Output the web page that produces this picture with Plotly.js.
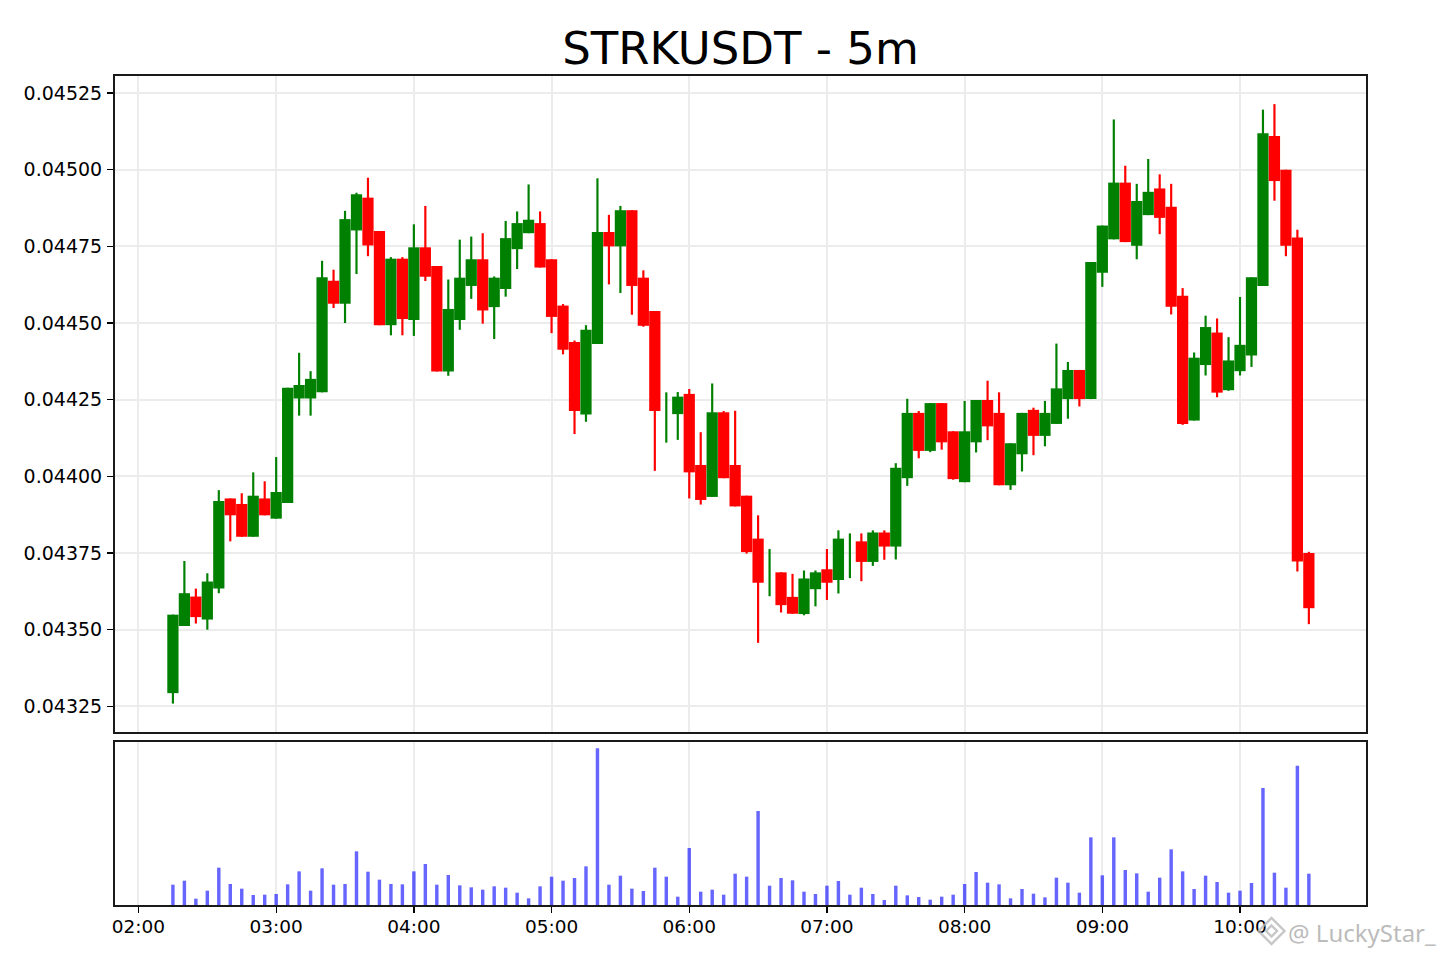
<!DOCTYPE html>
<html>
<head>
<meta charset="utf-8">
<script src="https://cdn.plot.ly/plotly-3.0.1.min.js"></script>
<style>html,body{margin:0;padding:0;background:#fff}#chart{width:1444px;height:957px}</style>
</head>
<body>
<div id="chart"></div>
<script>
const day = '2024-03-01 ';
const times = ['02:15','02:20','02:25','02:30','02:35','02:40','02:45','02:50','02:55','03:00','03:05','03:10','03:15','03:20','03:25','03:30','03:35','03:40','03:45','03:50','03:55','04:00','04:05','04:10','04:15','04:20','04:25','04:30','04:35','04:40','04:45','04:50','04:55','05:00','05:05','05:10','05:15','05:20','05:25','05:30','05:35','05:40','05:45','05:50','05:55','06:00','06:05','06:10','06:15','06:20','06:25','06:30','06:35','06:40','06:45','06:50','06:55','07:00','07:05','07:10','07:15','07:20','07:25','07:30','07:35','07:40','07:45','07:50','07:55','08:00','08:05','08:10','08:15','08:20','08:25','08:30','08:35','08:40','08:45','08:50','08:55','09:00','09:05','09:10','09:15','09:20','09:25','09:30','09:35','09:40','09:45','09:50','09:55','10:00','10:05','10:10','10:15','10:20','10:25','10:30'];
const opens = [0.043293,0.043512,0.043608,0.043533,0.043634,0.043928,0.043910,0.043803,0.043928,0.043862,0.043913,0.044254,0.044254,0.044274,0.044638,0.044563,0.044802,0.044909,0.044800,0.044493,0.044710,0.044510,0.044747,0.044686,0.044342,0.044510,0.044621,0.044708,0.044552,0.044611,0.044741,0.044793,0.044826,0.044708,0.044557,0.044438,0.044202,0.044432,0.044797,0.044750,0.044868,0.044648,0.044539,0.044200,0.044203,0.044269,0.044037,0.043933,0.044209,0.044037,0.043937,0.043797,0.043680,0.043687,0.043607,0.043551,0.043632,0.043697,0.043662,0.043750,0.043788,0.043721,0.043817,0.043771,0.043994,0.044207,0.044083,0.044239,0.044147,0.043981,0.044111,0.044249,0.044207,0.043971,0.044072,0.044217,0.044132,0.044171,0.044252,0.044347,0.044252,0.044664,0.044773,0.044958,0.044752,0.044852,0.044939,0.044879,0.044589,0.044182,0.044363,0.044469,0.044281,0.044343,0.044394,0.044621,0.045110,0.045000,0.044779,0.043750];
const highs = [0.043549,0.043724,0.043634,0.043684,0.043955,0.043928,0.043945,0.044013,0.043984,0.044063,0.044289,0.044403,0.044343,0.044703,0.044674,0.044866,0.044925,0.044974,0.044800,0.044715,0.044715,0.044822,0.044882,0.044686,0.044642,0.044772,0.044782,0.044793,0.044652,0.044833,0.044864,0.044952,0.044864,0.044708,0.044562,0.044443,0.044493,0.044972,0.044853,0.044882,0.044868,0.044672,0.044539,0.044274,0.044275,0.044285,0.044144,0.044303,0.044213,0.044214,0.043937,0.043873,0.043763,0.043687,0.043682,0.043693,0.043693,0.043763,0.043824,0.043814,0.043814,0.043824,0.043824,0.044043,0.044253,0.044213,0.044239,0.044239,0.044147,0.044246,0.044249,0.044312,0.044274,0.044108,0.044207,0.044224,0.044246,0.044433,0.044373,0.044347,0.044699,0.044818,0.045164,0.045013,0.044954,0.045035,0.044985,0.044954,0.044614,0.044404,0.044524,0.044515,0.044454,0.044585,0.044649,0.045196,0.045214,0.045000,0.044804,0.043754];
const lows = [0.043259,0.043512,0.043520,0.043500,0.043619,0.043788,0.043803,0.043803,0.043873,0.043862,0.043913,0.044198,0.044198,0.044274,0.044549,0.044500,0.044660,0.044718,0.044493,0.044460,0.044460,0.044458,0.044637,0.044342,0.044328,0.044478,0.044579,0.044498,0.044448,0.044586,0.044676,0.044793,0.044681,0.044467,0.044398,0.044138,0.044178,0.044432,0.044626,0.044598,0.044527,0.044488,0.044018,0.044110,0.044119,0.043928,0.043908,0.043933,0.043994,0.043902,0.043748,0.043457,0.043609,0.043556,0.043552,0.043547,0.043576,0.043597,0.043618,0.043668,0.043658,0.043708,0.043728,0.043729,0.043969,0.044059,0.044079,0.044087,0.043989,0.043981,0.044078,0.044118,0.043971,0.043956,0.044016,0.044069,0.044098,0.044171,0.044188,0.044228,0.044252,0.044618,0.044773,0.044764,0.044708,0.044852,0.044790,0.044528,0.044168,0.044182,0.044329,0.044258,0.044279,0.044329,0.044357,0.044621,0.044899,0.044718,0.043690,0.043518];
const closes = [0.043549,0.043619,0.043541,0.043657,0.043920,0.043873,0.043803,0.043937,0.043873,0.043949,0.044289,0.044298,0.044318,0.044649,0.044563,0.044839,0.044920,0.044753,0.044493,0.044710,0.044513,0.044747,0.044651,0.044342,0.044546,0.044648,0.044708,0.044541,0.044648,0.044777,0.044826,0.044837,0.044681,0.044520,0.044413,0.044213,0.044478,0.044797,0.044750,0.044868,0.044621,0.044491,0.044213,0.044200,0.044260,0.044013,0.043923,0.044209,0.043994,0.043902,0.043753,0.043653,0.043680,0.043580,0.043552,0.043667,0.043687,0.043653,0.043797,0.043750,0.043721,0.043817,0.043771,0.044028,0.044207,0.044083,0.044239,0.044111,0.043991,0.044147,0.044249,0.044163,0.043971,0.044108,0.044207,0.044132,0.044207,0.044287,0.044347,0.044252,0.044699,0.044818,0.044958,0.044764,0.044898,0.044928,0.044843,0.044553,0.044171,0.044387,0.044487,0.044273,0.044378,0.044429,0.044649,0.045119,0.044963,0.044752,0.043722,0.043570];
const volumes = [61,73,19,43,112,63,49,30,31,33,62,101,43,110,61,63,161,100,76,63,62,101,123,61,90,59,53,46,56,52,37,20,56,85,73,81,116,470,61,88,49,42,112,85,25,171,40,46,31,94,85,282,58,81,74,40,33,58,72,31,52,33,15,58,29,24,16,25,31,63,99,67,62,20,48,34,23,82,67,37,203,89,203,105,95,40,82,167,101,48,88,69,37,43,66,351,97,52,418,94];
const priceTicks = [0.04325,0.04350,0.04375,0.04400,0.04425,0.04450,0.04475,0.04500,0.04525];
const priceTickLabels = ['0.04325','0.04350','0.04375','0.04400','0.04425','0.04450','0.04475','0.04500','0.04525'];
const hourTicks = ['02:00','03:00','04:00','05:00','06:00','07:00','08:00','09:00','10:00'];

const MIN = 60000;
const x = times.map(t => day + t + ':00');
const up = opens.map((o,i) => closes[i] >= o);
const colors = up.map(u => u ? '#008000' : '#ff0000');
const font = 'DejaVu Sans, sans-serif';

const wicks = {
  type:'bar', x:x, base:lows, y:highs.map((h,i)=>h-lows[i]),
  width:0.95*MIN, marker:{color:colors,line:{width:0}},
  xaxis:'x', yaxis:'y', hoverinfo:'skip', name:'High-Low'
};
const bodies = {
  type:'bar', x:x, base:opens.map((o,i)=>Math.min(o,closes[i])),
  y:opens.map((o,i)=>Math.abs(closes[i]-o)),
  width:4.9*MIN, marker:{color:colors,line:{width:0}},
  xaxis:'x', yaxis:'y', name:'Open-Close'
};
const vol = {
  type:'bar', x:x, y:volumes, width:1.5*MIN,
  marker:{color:'rgba(0,0,255,0.6)',line:{width:0}},
  xaxis:'x2', yaxis:'y2', name:'Volume'
};

// page-pixel helpers for the watermark, which lives outside the axes
const PL = 115, PR = 1366, PT = 76, PB = 905;
const px = v => (v - PL) / (PR - PL);
const py = v => (PB - v) / (PB - PT);
const diamond = (cx, cy, r) => ({
  type:'path', xref:'paper', yref:'paper', layer:'above',
  line:{color:'rgba(185,185,185,0.8)', width:2.4},
  path:`M ${px(cx-r)} ${py(cy)} L ${px(cx)} ${py(cy-r)} L ${px(cx+r)} ${py(cy)} L ${px(cx)} ${py(cy+r)} Z`
});

const xRange = [day+'01:49:46', day+'10:54:54'];
const axisCommon = {
  showline:true, mirror:true, linecolor:'#1a1a1a', linewidth:2,
  zeroline:false, gridcolor:'#ececec', gridwidth:2
};
const layout = {
  width:1444, height:957, paper_bgcolor:'#fff', plot_bgcolor:'#fff',
  margin:{l:PL,r:1444-PR,t:PT,b:957-PB},
  showlegend:false, barmode:'overlay',
  title:{text:'STRKUSDT - 5m', font:{family:font,size:45,color:'#000'}, x:740.5/1444, xanchor:'center', y:0.95, yanchor:'middle'},
  xaxis: Object.assign({}, axisCommon, {
    type:'date', domain:[0,1], range:xRange, anchor:'y',
    tickvals:hourTicks.map(h=>day+h+':00'), ticktext:hourTicks.map(()=>''),
    showgrid:true, ticks:''
  }),
  yaxis: Object.assign({}, axisCommon, {
    domain:[(PB-732)/(PB-PT),1], range:[0.0431663,0.0453057], anchor:'x',
    tickvals:priceTicks, ticktext:priceTickLabels, ticks:'outside', ticklen:6, tickwidth:1.3, tickcolor:'#000',
    ticklabelstandoff:1,
    tickfont:{family:font,size:19,color:'#000'}, showgrid:true
  }),
  xaxis2: Object.assign({}, axisCommon, {
    type:'date', domain:[0,1], range:xRange, anchor:'y2',
    tickvals:hourTicks.map(h=>day+h+':00'), ticktext:hourTicks, ticks:'outside', ticklen:6, tickwidth:1.3, tickcolor:'#000',
    ticklabelstandoff:-2,
    tickfont:{family:font,size:18.5,color:'#000'}, showgrid:true
  }),
  yaxis2: Object.assign({}, axisCommon, {
    domain:[0,(PB-742)/(PB-PT)], range:[0,489], anchor:'x2',
    showticklabels:false, ticks:'', showgrid:false
  }),
  shapes:[diamond(1271.5,931,13), diamond(1271.5,931,5.5)],
  annotations:[
    {xref:'paper',yref:'paper',x:px(1438), y:py(932), xanchor:'right', yanchor:'middle', showarrow:false,
     text:'@ LuckyStar_', font:{family:'Noto Sans, DejaVu Sans, sans-serif',size:24,color:'rgba(165,165,165,0.75)'}}
  ]
};
Plotly.newPlot('chart',[wicks,bodies,vol],layout,{displayModeBar:false,staticPlot:true});
</script>
</body>
</html>
